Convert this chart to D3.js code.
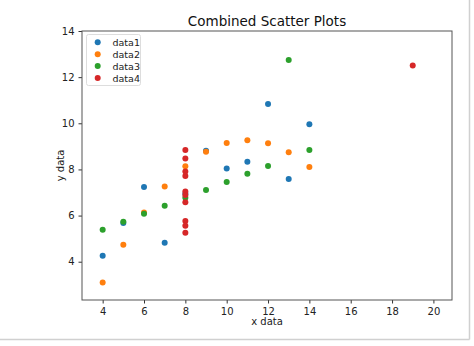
<!DOCTYPE html>
<html>
<head>
<meta charset="utf-8">
<script src="https://cdn.jsdelivr.net/npm/d3@7"></script>
<style>
  html, body { margin: 0; padding: 0; background: #fff; }
  svg { display: block; font-family: "DejaVu Sans", sans-serif; }
</style>
</head>
<body>
<svg id="chart" width="474" height="346"></svg>
<script>
// Four data sets plotted on one shared pair of axes
const x123 = [10, 8, 13, 9, 11, 14, 6, 4, 12, 7, 5];
const y1 = [8.04, 6.95, 7.58, 8.81, 8.33, 9.96, 7.24, 4.26, 10.84, 4.82, 5.68];
const y2 = [9.14, 8.14, 8.74, 8.77, 9.26, 8.10, 6.13, 3.10, 9.13, 7.26, 4.74];
const y3 = [7.46, 6.77, 12.74, 7.11, 7.81, 8.84, 6.08, 5.39, 8.15, 6.42, 5.73];
const x4 = [8, 8, 8, 8, 8, 8, 8, 19, 8, 8, 8];
const y4 = [6.58, 5.76, 7.71, 8.84, 8.47, 7.04, 5.25, 12.50, 5.56, 7.91, 6.89];
const seriesNames = ["data1", "data2", "data3", "data4"];
const seriesColors = ["#1f77b4", "#ff7f0e", "#2ca02c", "#d62728"];
const xTicks = [4, 6, 8, 10, 12, 14, 16, 18, 20];
const yTicks = [4, 6, 8, 10, 12, 14];

const series = [
  { name: seriesNames[0], xs: x123, ys: y1, color: seriesColors[0] },
  { name: seriesNames[1], xs: x123, ys: y2, color: seriesColors[1] },
  { name: seriesNames[2], xs: x123, ys: y3, color: seriesColors[2] },
  { name: seriesNames[3], xs: x4, ys: y4, color: seriesColors[3] }
];

const svg = d3.select("#chart");
const plotL = 82, plotR = 452, plotT = 31, plotB = 300;

// thin outer frame on the right and bottom edges
svg.append("line").attr("x1", 469.5).attr("x2", 469.5).attr("y1", 0).attr("y2", 339.5)
  .attr("stroke", "#d0d0d0").attr("stroke-width", 1.5);
svg.append("line").attr("x1", 0).attr("x2", 469.5).attr("y1", 339.5).attr("y2", 339.5)
  .attr("stroke", "#d0d0d0").attr("stroke-width", 1.5);

const x = d3.scaleLinear().domain([3.0, 20.9]).range([plotL, plotR]);
const y = d3.scaleLinear().domain([2.34, 14]).range([plotB, plotT]);

const xAxis = svg.append("g").attr("transform", `translate(0,${plotB})`)
  .call(d3.axisBottom(x).tickValues(xTicks).tickSize(3.5).tickPadding(4).tickFormat(d3.format("d")));
const yAxis = svg.append("g").attr("transform", `translate(${plotL},0)`)
  .call(d3.axisLeft(y).tickValues(yTicks).tickSize(3.5).tickPadding(4).tickFormat(d3.format("d")));
[xAxis, yAxis].forEach(g => {
  g.select(".domain").remove();
  g.selectAll(".tick line").attr("stroke", "#333");
  g.selectAll(".tick text").attr("fill", "#222").style("font-size", "10px")
    .style("font-family", "DejaVu Sans, sans-serif");
});

// points
series.forEach(s => {
  svg.append("g").selectAll("circle")
    .data(s.xs.map((xv, i) => [xv, s.ys[i]]))
    .join("circle")
    .attr("cx", d => x(d[0]))
    .attr("cy", d => y(d[1]))
    .attr("r", 3)
    .attr("fill", s.color);
});

// plot frame
svg.append("rect").attr("x", plotL).attr("y", plotT)
  .attr("width", plotR - plotL).attr("height", plotB - plotT)
  .attr("fill", "none").attr("stroke", "#555").attr("stroke-width", 1);

// title and axis labels
svg.append("text").attr("x", (plotL + plotR) / 2).attr("y", 26)
  .attr("text-anchor", "middle").style("font-size", "13.5px").attr("fill", "#111")
  .text("Combined Scatter Plots");
svg.append("text").attr("x", (plotL + plotR) / 2).attr("y", 325)
  .attr("text-anchor", "middle").style("font-size", "10px").attr("fill", "#222")
  .text("x data");
svg.append("text").attr("transform", `translate(64,${(plotT + plotB) / 2}) rotate(-90)`)
  .attr("text-anchor", "middle").style("font-size", "10px").attr("fill", "#222")
  .text("y data");

// legend
const lg = svg.append("g");
lg.append("rect").attr("x", 86.5).attr("y", 34.5).attr("width", 54).attr("height", 51)
  .attr("rx", 2).attr("fill", "#fff").attr("fill-opacity", 0.8)
  .attr("stroke", "#ddd").attr("stroke-width", 1);
series.forEach((s, i) => {
  const cy = 42.3 + i * 11.9;
  lg.append("circle").attr("cx", 97.7).attr("cy", cy).attr("r", 3).attr("fill", s.color);
  lg.append("text").attr("x", 112.5).attr("y", cy + 3.5).style("font-size", "9.5px")
    .attr("fill", "#222").text(s.name);
});
</script>
</body>
</html>
